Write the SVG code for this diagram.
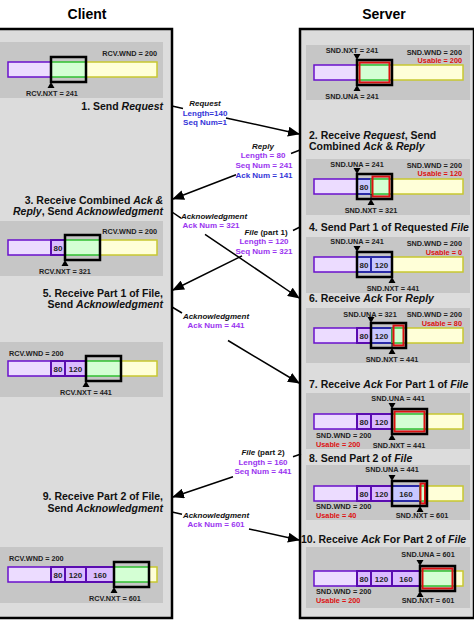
<svg xmlns="http://www.w3.org/2000/svg" xmlns:xlink="http://www.w3.org/1999/xlink" width="474" height="623" viewBox="0 0 474 623">
<style>
text{font-family:"Liberation Sans",Arial,sans-serif;font-weight:bold}
.title{font-size:14px;fill:#000;text-anchor:middle}
.box{fill:#dcdcdc;stroke:#000;stroke-width:2.5}
.panel{fill:#c6c6c6}
.pu{fill:#ecdcff;stroke:#6a10cc;stroke-width:1.5}
.pa{fill:#dbbcff;stroke:#5a0cb0;stroke-width:2}
.bl{fill:#c8c8ff;stroke:#2a2aa6;stroke-width:2}
.gr{fill:#d4ffd4;stroke:#30c030;stroke-width:1.5}
.ye{fill:#ffffd8;stroke:#c8c830;stroke-width:1.5}
.win{fill:none;stroke:#000;stroke-width:2.5}
.us{fill:none;stroke:#dd1111;stroke-width:2}
.step{font-size:10.5px;fill:#111}
.lab{font-size:7.3px;fill:#222}
.num{font-size:8px;fill:#222;text-anchor:middle}
.red{fill:#dd1111}
.mid{text-anchor:middle}
.end{text-anchor:end}
.al{font-size:8px;text-anchor:middle}
.it{font-style:italic}
.blue{fill:#3434d8}
.purp{fill:#9a33f0}
.blk{fill:#111}
.ptr{stroke:#000;stroke-width:1}
.conn{fill:none;stroke:#000;stroke-width:1.5}
</style>
<defs>
<path id="tu" d="M0,0 L-3.5,6 L3.5,6 Z" fill="#000"/>
<path id="td" d="M0,0 L-3.5,-6 L3.5,-6 Z" fill="#000"/>
<marker id="ah" markerWidth="12" markerHeight="10" refX="11" refY="5" orient="auto" markerUnits="userSpaceOnUse">
<path d="M0,0 L12,5 L0,10 Z" fill="#000"/>
</marker>
</defs>
<rect width="474" height="623" fill="#fff"/>

<g id="titles">
<text class="title" x="87" y="19">Client</text>
<text class="title" x="384" y="19">Server</text>
</g>

<g id="client-box"><rect class="box" x="-2" y="29" width="174" height="589"/></g>
<g id="server-box"><rect class="box" x="300" y="29" width="174" height="589"/></g>

<!-- Client step 1 -->
<g id="client-1">
<rect class="panel" x="0" y="42" width="163" height="56"/>
<rect class="pu" x="8" y="62" width="43" height="15"/>
<rect class="ye" x="86" y="62" width="71" height="15"/>
<rect class="gr" x="51" y="62" width="35" height="15"/>
<rect class="win" x="51" y="57" width="35" height="25"/>
<use xlink:href="#tu" x="51" y="82"/>
<text class="lab end" x="157" y="56">RCV.WND = 200</text>
<text class="lab mid" x="52" y="96">RCV.NXT = 241</text>
<text class="step end" x="163" y="110">1. Send <tspan class="it">Request</tspan></text>
</g>

<!-- Client step 3 -->
<g id="client-3">
<text class="step end" x="163" y="204">3. Receive Combined <tspan class="it">Ack &amp;</tspan></text>
<text class="step end" x="163" y="215"><tspan class="it">Reply</tspan>, Send <tspan class="it">Acknowledgment</tspan></text>
<rect class="panel" x="0" y="221" width="163" height="55"/>
<rect class="pu" x="8" y="240" width="43" height="15"/>
<rect class="pa" x="51" y="240" width="14" height="15"/>
<text class="num" x="58" y="251">80</text>
<rect class="ye" x="100" y="240" width="57" height="15"/>
<rect class="gr" x="65" y="240" width="35" height="15"/>
<rect class="win" x="65" y="235" width="35" height="25"/>
<use xlink:href="#tu" x="65" y="260"/>
<text class="lab end" x="157" y="234">RCV.WND = 200</text>
<text class="lab mid" x="65" y="274">RCV.NXT = 321</text>
</g>

<!-- Client step 5 -->
<g id="client-5">
<text class="step end" x="163" y="297">5. Receive Part 1 of File,</text>
<text class="step end" x="163" y="308">Send <tspan class="it">Acknowledgment</tspan></text>
<rect class="panel" x="0" y="342" width="163" height="55"/>
<rect class="pu" x="8" y="361" width="43" height="15"/>
<rect class="pa" x="51" y="361" width="14" height="15"/>
<text class="num" x="58" y="372">80</text>
<rect class="pa" x="65" y="361" width="21" height="15"/>
<text class="num" x="75.5" y="372">120</text>
<rect class="ye" x="121" y="361" width="36" height="15"/>
<rect class="gr" x="86" y="361" width="35" height="15"/>
<rect class="win" x="86" y="356" width="35" height="25"/>
<use xlink:href="#tu" x="86" y="381"/>
<text class="lab" x="9" y="356">RCV.WND = 200</text>
<text class="lab mid" x="86" y="395">RCV.NXT = 441</text>
</g>

<!-- Client step 9 -->
<g id="client-9">
<text class="step end" x="163" y="500">9. Receive Part 2 of File,</text>
<text class="step end" x="163" y="512">Send <tspan class="it">Acknowledgment</tspan></text>
<rect class="panel" x="0" y="547" width="163" height="56"/>
<rect class="pu" x="8" y="567" width="43" height="15"/>
<rect class="pa" x="51" y="567" width="14" height="15"/>
<text class="num" x="58" y="578">80</text>
<rect class="pa" x="65" y="567" width="21" height="15"/>
<text class="num" x="75.5" y="578">120</text>
<rect class="pa" x="86" y="567" width="28" height="15"/>
<text class="num" x="100" y="578">160</text>
<rect class="ye" x="149" y="567" width="8" height="15"/>
<rect class="gr" x="114" y="567" width="35" height="15"/>
<rect class="win" x="114" y="562" width="35" height="25"/>
<use xlink:href="#tu" x="114" y="587"/>
<text class="lab" x="9" y="561">RCV.WND = 200</text>
<text class="lab mid" x="115" y="601">RCV.NXT = 601</text>
</g>

<!-- Server initial -->
<g id="server-1">
<rect class="panel" x="306" y="45" width="164" height="55"/>
<rect class="pu" x="314" y="65" width="43" height="15"/>
<rect class="ye" x="392" y="65" width="71" height="15"/>
<rect class="gr" x="357" y="65" width="35" height="15"/>
<rect class="us" x="359.5" y="62.5" width="30" height="20"/>
<rect class="win" x="357" y="60" width="35" height="25"/>
<use xlink:href="#td" x="357" y="60"/>
<use xlink:href="#tu" x="357" y="85"/>
<text class="lab mid" x="352" y="53">SND.NXT = 241</text>
<text class="lab mid" x="352" y="99">SND.UNA = 241</text>
<text class="lab end" x="462" y="55">SND.WND = 200</text>
<text class="lab end red" x="462" y="63">Usable = 200</text>
</g>

<!-- Server step 2 -->
<g id="server-2">
<text class="step" x="309" y="139">2. Receive <tspan class="it">Request</tspan>, Send</text>
<text class="step" x="309" y="150">Combined <tspan class="it">Ack</tspan> &amp; <tspan class="it">Reply</tspan></text>
<rect class="panel" x="306" y="159" width="164" height="56"/>
<rect class="pu" x="314" y="179" width="43" height="15"/>
<rect class="bl" x="357" y="179" width="14" height="15"/>
<text class="num" x="364" y="190">80</text>
<rect class="ye" x="392" y="179" width="71" height="15"/>
<rect class="gr" x="371" y="179" width="21" height="15"/>
<rect class="us" x="372.5" y="176.5" width="17" height="20"/>
<rect class="win" x="357" y="174" width="35" height="25"/>
<use xlink:href="#td" x="357" y="174"/>
<line class="ptr" x1="371" y1="194" x2="371" y2="200"/>
<use xlink:href="#tu" x="371" y="199"/>
<text class="lab mid" x="357" y="167">SND.UNA = 241</text>
<text class="lab mid" x="371" y="213">SND.NXT = 321</text>
<text class="lab end" x="462" y="168">SND.WND = 200</text>
<text class="lab end red" x="462" y="176">Usable = 120</text>
</g>

<!-- Server step 4 -->
<g id="server-4">
<text class="step" x="309" y="231">4. Send Part 1 of Requested <tspan class="it">File</tspan></text>
<rect class="panel" x="306" y="237" width="164" height="56"/>
<rect class="pu" x="314" y="257" width="43" height="15"/>
<rect class="bl" x="357" y="257" width="14" height="15"/>
<text class="num" x="364" y="268">80</text>
<rect class="bl" x="371" y="257" width="21" height="15"/>
<text class="num" x="381.5" y="268">120</text>
<rect class="ye" x="392" y="257" width="71" height="15"/>
<rect class="win" x="357" y="252" width="35" height="25"/>
<use xlink:href="#td" x="357" y="252"/>
<use xlink:href="#tu" x="392" y="277"/>
<text class="lab mid" x="357" y="244">SND.UNA = 241</text>
<text class="lab mid" x="393" y="291">SND.NXT = 441</text>
<text class="lab end" x="462" y="246">SND.WND = 200</text>
<text class="lab end red" x="462" y="254.5">Usable = 0</text>
</g>

<!-- Server step 6 -->
<g id="server-6">
<text class="step" x="309" y="302">6. Receive <tspan class="it">Ack</tspan> For <tspan class="it">Reply</tspan></text>
<rect class="panel" x="306" y="308" width="164" height="55"/>
<rect class="pu" x="314" y="328" width="43" height="15"/>
<rect class="pa" x="357" y="328" width="14" height="15"/>
<text class="num" x="364" y="339">80</text>
<rect class="bl" x="371" y="328" width="21" height="15"/>
<text class="num" x="381.5" y="339">120</text>
<rect class="ye" x="406" y="328" width="57" height="15"/>
<rect class="gr" x="392" y="328" width="14" height="15"/>
<rect class="us" x="393.5" y="325.5" width="10" height="20"/>
<rect class="win" x="371" y="323" width="35" height="25"/>
<use xlink:href="#td" x="371" y="323"/>
<line class="ptr" x1="392" y1="343" x2="392" y2="349"/>
<use xlink:href="#tu" x="392" y="348"/>
<text class="lab mid" x="370" y="317">SND.UNA = 321</text>
<text class="lab mid" x="392" y="362">SND.NXT = 441</text>
<text class="lab end" x="462" y="317">SND.WND = 200</text>
<text class="lab end red" x="462" y="325.5">Usable = 80</text>
</g>

<!-- Server step 7 -->
<g id="server-7">
<text class="step" x="309" y="388">7. Receive <tspan class="it">Ack</tspan> For Part 1 of <tspan class="it">File</tspan></text>
<rect class="panel" x="306" y="393" width="164" height="56"/>
<rect class="pu" x="314" y="414" width="43" height="15"/>
<rect class="pa" x="357" y="414" width="14" height="15"/>
<text class="num" x="364" y="425">80</text>
<rect class="pa" x="371" y="414" width="21" height="15"/>
<text class="num" x="381.5" y="425">120</text>
<rect class="ye" x="427" y="414" width="36" height="15"/>
<rect class="gr" x="392" y="414" width="35" height="15"/>
<rect class="us" x="394.5" y="411.5" width="30" height="20"/>
<rect class="win" x="392" y="409" width="35" height="25"/>
<use xlink:href="#td" x="392" y="409"/>
<use xlink:href="#tu" x="392" y="434"/>
<text class="lab mid" x="398" y="401">SND.UNA = 441</text>
<text class="lab mid" x="399" y="448">SND.NXT = 441</text>
<text class="lab" x="316" y="438">SND.WND = 200</text>
<text class="lab red" x="316" y="446.5">Usable = 200</text>
</g>

<!-- Server step 8 -->
<g id="server-8">
<text class="step" x="309" y="462">8. Send Part 2 of <tspan class="it">File</tspan></text>
<rect class="panel" x="306" y="465" width="164" height="55"/>
<rect class="pu" x="314" y="486" width="43" height="15"/>
<rect class="pa" x="357" y="486" width="14" height="15"/>
<text class="num" x="364" y="497">80</text>
<rect class="pa" x="371" y="486" width="21" height="15"/>
<text class="num" x="381.5" y="497">120</text>
<rect class="bl" x="392" y="486" width="28" height="15"/>
<text class="num" x="406" y="497">160</text>
<rect class="ye" x="427" y="486" width="36" height="15"/>
<rect class="gr" x="420" y="486" width="7" height="15"/>
<rect class="us" x="420.5" y="483.5" width="4.5" height="20"/>
<rect class="win" x="392" y="481" width="35" height="25"/>
<use xlink:href="#td" x="392" y="481"/>
<line class="ptr" x1="420" y1="501" x2="420" y2="507"/>
<use xlink:href="#tu" x="420" y="506"/>
<text class="lab mid" x="392" y="472">SND.UNA = 441</text>
<text class="lab mid" x="422" y="518">SND.NXT = 601</text>
<text class="lab" x="316" y="509">SND.WND = 200</text>
<text class="lab red" x="316" y="517.5">Usable = 40</text>
</g>

<!-- Server step 10 -->
<g id="server-10">
<text class="step" x="301" y="543">10. Receive <tspan class="it">Ack</tspan> For Part 2 of <tspan class="it">File</tspan></text>
<rect class="panel" x="306" y="547" width="164" height="61"/>
<rect class="pu" x="314" y="571" width="43" height="15"/>
<rect class="pa" x="357" y="571" width="14" height="15"/>
<text class="num" x="364" y="582">80</text>
<rect class="pa" x="371" y="571" width="21" height="15"/>
<text class="num" x="381.5" y="582">120</text>
<rect class="pa" x="392" y="571" width="28" height="15"/>
<text class="num" x="406" y="582">160</text>
<rect class="ye" x="455" y="571" width="8" height="15"/>
<rect class="gr" x="420" y="571" width="35" height="15"/>
<rect class="us" x="422.5" y="568.5" width="30" height="20"/>
<rect class="win" x="420" y="566" width="35" height="25"/>
<use xlink:href="#td" x="420" y="566"/>
<use xlink:href="#tu" x="420" y="591"/>
<text class="lab mid" x="428" y="557">SND.UNA = 601</text>
<text class="lab mid" x="428" y="603">SND.NXT = 601</text>
<text class="lab" x="316" y="594">SND.WND = 200</text>
<text class="lab red" x="316" y="602.5">Usable = 200</text>
</g>

<g id="connectors">
<path class="conn" marker-end="url(#ah)" d="M172,106 L183,108.4 M226,117.9 L299,134"/>
<path class="conn" marker-end="url(#ah)" d="M300,150 L291,153.5 M236,174.7 L173,199"/>
<path class="conn" marker-end="url(#ah)" d="M172,212 L181,218.1 M205,234.3 L299,298"/>
<path class="conn" marker-end="url(#ah)" d="M300,227 L293,230.5 M242,255.8 L173,290"/>
<path class="conn" marker-end="url(#ah)" d="M172,307 L182,313 M228,340.5 L299,383"/>
<path class="conn" marker-end="url(#ah)" d="M301,454 L293,456.7 M233,476.8 L173,497"/>
<path class="conn" marker-end="url(#ah)" d="M172,512 L182,514.2 M249,529 L299,540"/>
</g>

<g id="connector-labels">
<text class="al it blk" x="205" y="106">Request</text>
<text class="al blue" x="205" y="116">Length=140</text>
<text class="al blue" x="205" y="125">Seq Num=1</text>

<text class="al it blk" x="263" y="149">Reply</text>
<text class="al purp" x="263" y="158">Length = 80</text>
<text class="al purp" x="264" y="168">Seq Num = 241</text>
<text class="al blue" x="264" y="178">Ack Num = 141</text>

<text class="al it blk" x="214" y="219">Acknowledgment</text>
<text class="al purp" x="211" y="228">Ack Num = 321</text>

<text class="al blk" x="266" y="235"><tspan class="it">File</tspan> (part 1)</text>
<text class="al purp" x="264" y="244">Length = 120</text>
<text class="al purp" x="264" y="254">Seq Num = 321</text>

<text class="al it blk" x="216" y="319">Acknowledgment</text>
<text class="al purp" x="216" y="328">Ack Num = 441</text>

<text class="al blk" x="263" y="455"><tspan class="it">File</tspan> (part 2)</text>
<text class="al purp" x="263" y="465">Length = 160</text>
<text class="al purp" x="263" y="474">Seq Num = 441</text>

<text class="al it blk" x="216" y="518">Acknowledgment</text>
<text class="al purp" x="216" y="527">Ack Num = 601</text>
</g>
</svg>
